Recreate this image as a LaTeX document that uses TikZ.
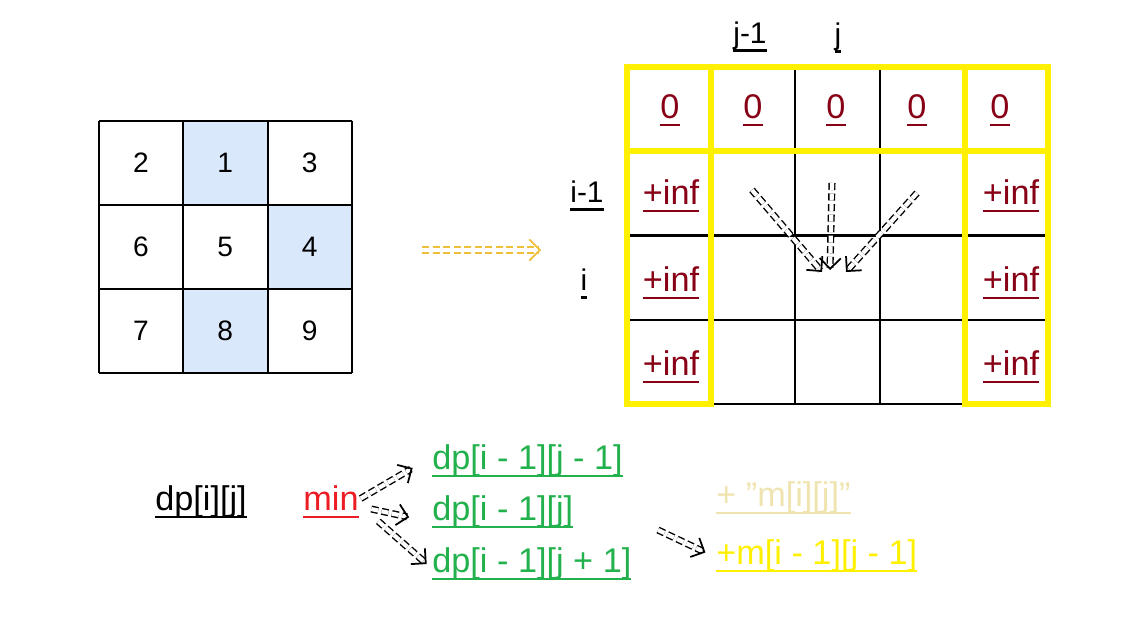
\documentclass[tikz,border=0pt]{standalone}
\usepackage{fontspec}
\setmainfont{Liberation Sans}
\usetikzlibrary{arrows.meta}
\definecolor{CellBlue}{HTML}{DAE8FC}
\definecolor{Wine}{HTML}{880015}
\definecolor{Mark}{HTML}{FFF000}
\definecolor{Amber}{HTML}{EFBF3A}
\definecolor{Leaf}{HTML}{22B14C}
\definecolor{Alert}{HTML}{ED1C24}
\definecolor{Tan}{HTML}{EFE4B0}
\newcommand\undl[1]{\setbox0\hbox{#1}\rlap{\copy0}\raisebox{-4.5pt}{\rule{\wd0}{1.3pt}}}

\begin{document}
\begin{tikzpicture}[x=0.02cm,y=-0.02cm,
  num/.style={font=\fontsize{16}{18}\selectfont},
  hand/.style={font=\fontsize{19.5}{22}\selectfont,inner sep=0pt},
  idx/.style={font=\fontsize{17}{20}\selectfont,inner sep=0pt},
  dbl/.style={dashed,dash pattern=on 4pt off 2pt,line width=0.8pt,double,double distance=2.4pt,
    -{Straight Barb[length=6pt,width=12pt,line width=1pt]}}]
  \useasboundingbox (0,0) rectangle (1134,635);
  % left grid
  \fill[CellBlue] (184,121) rectangle (268,205);
  \fill[CellBlue] (268,205) rectangle (352,289);
  \fill[CellBlue] (184,289) rectangle (268,373);
  \foreach \k in {0,...,3} {
    \draw[line width=1.2pt] (99+84.3*\k,121) -- (99+84.3*\k,373);
    \draw[line width=1.2pt] (99,121+84*\k) -- (352,121+84*\k);
  }
  \foreach \n [count=\k from 0] in {2,1,3,6,5,4,7,8,9} {
    \pgfmathtruncatemacro\c{mod(\k,3)}
    \pgfmathtruncatemacro\r{int(\k/3)}
    \node[num] (n\n) at (141+84.3*\c,163+84*\r) {\n};
  }
  % transition
  \coordinate (oa) at (422,250);
  \coordinate (ob) at (541,250);
  \draw[dbl,Amber,line width=1pt] (oa) -- (ob);
  % right grid
  \foreach \k in {0,...,5}
    \draw[line width=1.2pt] (627+84.2*\k,67) -- (627+84.2*\k,404);
  \foreach \k in {0,...,4}
    \draw[line width=1.2pt] (627,67+84.25*\k) -- (1048,67+84.25*\k);
  \draw[Mark,line width=3pt] (627,67) rectangle (1048,151);
  \draw[Mark,line width=3pt] (627,67) rectangle (711,404);
  \draw[Mark,line width=3pt] (965,67) rectangle (1048,404);
  \node[idx] (cj1) at (750,37) {\undl{j-1}};
  \node[idx] (cj) at (838,38) {\undl{j}};
  \node[idx] (ri1) at (587,196) {\undl{i-1}};
  \node[idx] (ri) at (584,284) {\undl{i}};
  \foreach \x [count=\k] in {670,753,836,917,1000}
    \node[hand,Wine] (z\k) at (\x,110) {\undl{0}};
  \foreach \y [count=\k] in {196,283,367} {
    \node[hand,Wine] (pl\k) at (671,\y) {\undl{+inf}};
    \node[hand,Wine] (pr\k) at (1011,\y) {\undl{+inf}};
  }
  \coordinate (tl) at (752,190);
  \coordinate (tm) at (832,183);
  \coordinate (tr) at (917,193);
  \coordinate (hl) at (822,272);
  \coordinate (hm) at (830,270);
  \coordinate (hr) at (846,272);
  \draw[dbl] (tl) -- (hl);
  \draw[dbl] (tm) -- (hm);
  \draw[dbl] (tr) -- (hr);
  % recurrence
  \node[hand] (dp) at (201,502) {\undl{dp[i][j]}};
  \node[hand,Alert] (mn) at (331,502) {\undl{min}};
  \node[hand,Leaf,anchor=west] (g1) at (432,461) {\undl{dp[i - 1][j - 1]}};
  \node[hand,Leaf,anchor=west] (g2) at (432,512) {\undl{dp[i - 1][j]}};
  \node[hand,Leaf,anchor=west] (g3) at (432,564) {\undl{dp[i - 1][j + 1]}};
  \node[hand,Tan,anchor=west] (cost) at (716,498) {\undl{+ "m[i][j]"}};
  \node[hand,Mark,anchor=west] (prev) at (716,556) {\undl{+m[i - 1][j - 1]}};
  \draw[dbl] ([shift={(1pt,2pt)}]mn.east) -- ([shift={(-11pt,-4pt)}]g1.west);
  \draw[dbl] ([shift={(7pt,-4pt)}]mn.east) -- ([shift={(-13pt,-3pt)}]g2.west);
  \draw[dbl] ([shift={(11pt,-11pt)}]mn.east) -- ([shift={(-3pt,0pt)}]g3.west);
  \coordinate (src) at (658,530);
  \draw[dbl] (src) -- ([shift={(-6pt,2pt)}]prev.west);
\end{tikzpicture}
\end{document}
